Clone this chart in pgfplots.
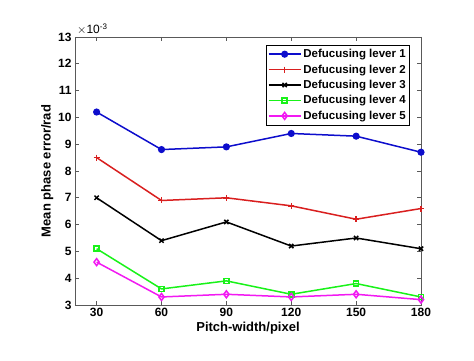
\documentclass[border=0pt]{standalone}
\usepackage{pgfplots}
\pgfplotsset{compat=1.18}
\usepackage{fontspec}
\setmainfont{Liberation Sans}
\definecolor{mblue}{rgb}{0.05,0.05,0.8}
\definecolor{mred}{rgb}{0.85,0.12,0.12}
\definecolor{mgreen}{rgb}{0.1,0.95,0.1}
\definecolor{mmag}{rgb}{0.95,0.1,0.95}
\definecolor{axgray}{rgb}{0.35,0.35,0.35}
\begin{document}
\begin{tikzpicture}
\path[use as bounding box] (-75pt,-56pt) rectangle (399pt,305pt);
\begin{axis}[
  name=main,
  at={(0pt,0pt)}, anchor=south west,
  scale only axis, width=346pt, height=268pt,
  xmin=20, xmax=180, ymin=3, ymax=13,
  xtick={30,60,90,120,150,180},
  ytick={3,4,5,6,7,8,9,10,11,12,13},
  tick align=inside, major tick length=4pt,
  axis line style={axgray, line width=0.6pt},
  every tick/.style={axgray, line width=0.6pt},
  tick label style={font=\fontsize{12}{14}\selectfont\bfseries},
  /pgf/number format/assume math mode=true,
  scaled y ticks=false,
  xlabel={Pitch-width/pixel},
  ylabel={Mean phase error/rad},
  label style={font=\fontsize{13}{15}\selectfont\bfseries},
  xlabel style={yshift=2pt},
  ylabel style={yshift=-2pt},
  legend cell align=left,
  legend style={at={(axis description cs:0.968,0.97)}, anchor=north east,
    font=\fontsize{11.5}{12}\selectfont\bfseries, draw=black, line width=0.5pt,
    inner sep=2pt, row sep=1.6pt},
  legend image code/.code={\draw[#1] (0pt,0pt) -- (16pt,0pt) plot coordinates {(16pt,0pt)} -- (32pt,0pt);},
]
\addplot[mblue, mark=*, mark size=2.8pt, line width=1.5pt] coordinates {(30,10.2)(60,8.8)(90,8.9)(120,9.4)(150,9.3)(180,8.7)};
\addlegendentry{Defucusing lever 1}
\addplot[mred, mark=+, mark size=3pt, line width=1.5pt] coordinates {(30,8.5)(60,6.9)(90,7.0)(120,6.7)(150,6.2)(180,6.6)};
\addlegendentry{Defucusing lever 2}
\addplot[black, mark=x, mark size=3pt, line width=1.5pt] coordinates {(30,7.0)(60,5.4)(90,6.1)(120,5.2)(150,5.5)(180,5.1)};
\addlegendentry{Defucusing lever 3}
\addplot[mgreen, mark=square, mark size=2.5pt, line width=1.5pt] coordinates {(30,5.1)(60,3.6)(90,3.9)(120,3.4)(150,3.8)(180,3.3)};
\addlegendentry{Defucusing lever 4}
\addplot[mmag, mark=diamond, mark size=3.5pt, line width=1.5pt] coordinates {(30,4.6)(60,3.3)(90,3.4)(120,3.3)(150,3.4)(180,3.2)};
\addlegendentry{Defucusing lever 5}
\end{axis}
\node[anchor=south west, font=\fontsize{12}{14}\selectfont, inner sep=0pt, xshift=2pt, yshift=2pt] at (main.north west) {$\times$10\textsuperscript{-3}};
\end{tikzpicture}
\end{document}
